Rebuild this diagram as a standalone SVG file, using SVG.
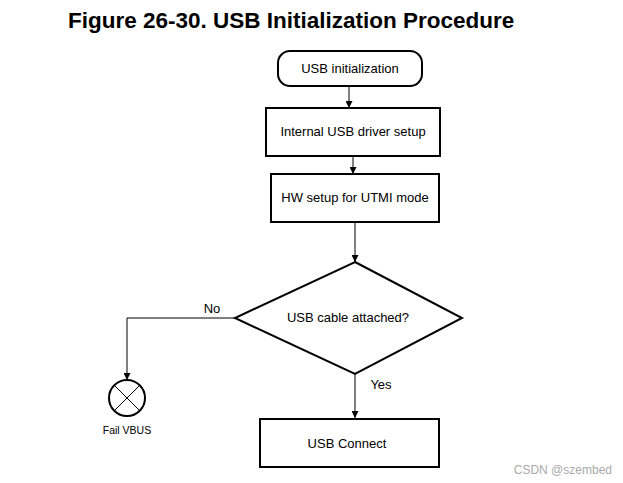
<svg xmlns="http://www.w3.org/2000/svg" width="623" height="483" viewBox="0 0 623 483">
<style>
.s{fill:#fff;stroke:#000;stroke-width:2}
.t{font-family:"Liberation Sans",Arial,sans-serif;font-size:13px;fill:#000;text-anchor:middle}
.c{fill:none;stroke:#000;stroke-width:1}
</style>
<defs><marker id="a" viewBox="0 0 10 10" refX="10" refY="5" markerWidth="7" markerHeight="7" orient="auto" markerUnits="userSpaceOnUse"><path d="M0,0L10,5L0,10z" fill="#000"/></marker></defs>
<rect width="623" height="483" fill="#fff"/>
<text x="68" y="28" style="font-family:'Liberation Sans',Arial,sans-serif;font-size:22.5px;font-weight:bold">Figure 26-30. USB Initialization Procedure</text>
<g id="connectors">
<path class="c" d="M349,86V108" marker-end="url(#a)"/>
<path class="c" d="M353,156V174" marker-end="url(#a)"/>
<path class="c" d="M355,222V262" marker-end="url(#a)"/>
<path class="c" d="M235,318H127V380" marker-end="url(#a)"/>
<path class="c" d="M355,374V418" marker-end="url(#a)"/>
<text class="t" x="212" y="313">No</text>
<text class="t" x="381" y="389">Yes</text>
</g>
<g id="start"><rect class="s" x="278" y="51" width="144" height="35" rx="12"/><text class="t" x="350" y="73">USB initialization</text></g>
<g id="driver"><rect class="s" x="266" y="108" width="174" height="48"/><text class="t" x="353" y="136">Internal USB driver setup</text></g>
<g id="hw"><rect class="s" x="271" y="174" width="168" height="48"/><text class="t" x="355" y="202">HW setup for UTMI mode</text></g>
<g id="decision"><path class="s" d="M355,262L462,318L355,374L235,318Z"/><text class="t" x="348" y="322">USB cable attached?</text></g>
<g id="fail"><circle class="s" cx="127" cy="398" r="18"/><path class="c" d="M114,385L140,411M140,385L114,411"/><text class="t" x="127" y="434" style="font-size:10.5px">Fail VBUS</text></g>
<g id="connect"><rect class="s" x="260" y="419" width="179" height="48"/><text class="t" x="347" y="448">USB Connect</text></g>
<text x="612" y="474" style="font-family:'Liberation Sans',Arial,sans-serif;font-size:12px;fill:#aaa;text-anchor:end">CSDN @szembed</text>
</svg>
